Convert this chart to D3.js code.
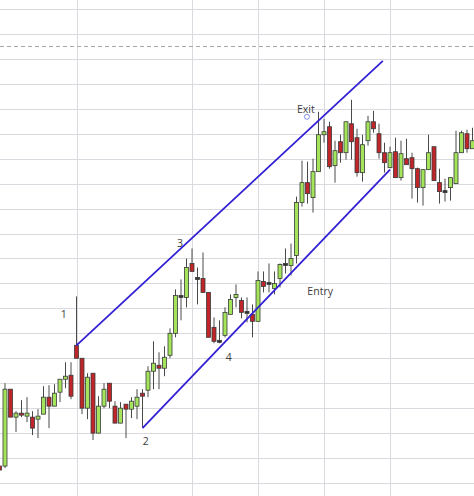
<!DOCTYPE html>
<html>
<head>
<meta charset="utf-8">
<script src="https://cdn.jsdelivr.net/npm/d3@7"></script>
<style>
  html, body { margin: 0; padding: 0; background: #fff; }
  svg { display: block; }
</style>
</head>
<body>
<div id="chart"></div>
<script>
const FRAME_WIDTH = 474;
const FRAME_HEIGHT = 496;

// candle data, one entry per bar (index = bar number)
const opens  = [42, 42, 119, 91, 95, 92, 91, 89, 94, 111, 102, 116, 129, 133, 163, 150, 100, 135, 75, 102,
                125, 102, 85, 104, 99, 102, 115, 118, 137, 143, 140, 153, 175, 212, 211, 245, 230, 230, 216, 181,
                167, 173, 194, 211, 208, 196, 194, 187, 227, 225, 220, 230, 244, 243, 253, 306, 326, 311, 337, 374,
                382, 343, 367, 356, 385, 371, 336, 368, 387, 375, 356, 341, 357, 331, 350, 351, 340, 321, 339, 362,
                326, 317, 321, 325, 356, 375, 360];
const highs  = [46, 125, 119, 97, 108, 111, 97, 99, 122, 123, 124, 129, 146, 146, 212, 150, 135, 135, 112, 125,
                125, 107, 106, 104, 111, 119, 119, 142, 167, 156, 162, 180, 219, 229, 250, 260, 241, 256, 216, 191,
                188, 201, 214, 224, 211, 211, 204, 237, 237, 245, 237, 245, 260, 265, 312, 348, 347, 350, 397, 390,
                387, 368, 374, 387, 409, 380, 374, 393, 398, 385, 366, 362, 371, 368, 370, 356, 341, 339, 374, 362,
                340, 330, 331, 378, 378, 379, 381];
const lows   = [21, 40, 91, 76, 91, 86, 73, 70, 94, 80, 102, 106, 120, 109, 150, 94, 89, 68, 75, 100,
                100, 85, 85, 70, 90, 89, 81, 111, 119, 119, 132, 150, 171, 188, 201, 237, 204, 216, 171, 165,
                165, 171, 194, 201, 190, 186, 171, 187, 216, 216, 214, 221, 235, 233, 245, 302, 305, 296, 337, 366,
                340, 326, 346, 349, 349, 332, 327, 363, 376, 350, 336, 341, 331, 328, 344, 310, 306, 303, 339, 328,
                305, 307, 308, 325, 356, 356, 360];
const closes = [38, 119, 91, 95, 93, 95, 80, 92, 111, 102, 115, 129, 132, 112, 150, 100, 131, 75, 102, 119,
                107, 85, 100, 99, 107, 111, 112, 137, 145, 140, 151, 175, 213, 212, 241, 237, 230, 216, 171, 167,
                167, 196, 209, 214, 196, 196, 187, 228, 222, 225, 225, 244, 244, 250, 306, 326, 315, 337, 374, 377,
                342, 358, 356, 387, 367, 336, 364, 387, 380, 356, 346, 356, 331, 355, 344, 340, 321, 339, 356, 328,
                317, 317, 331, 356, 376, 360, 368];

// hand-drawn channel and annotations (bar index, price)
const upperLine = [[14, 163], [69.7, 448]];
const lowerLine = [[26, 80], [71, 339]];
const labelText = ["1", "2", "3", "4", "Exit", "Entry"];
const labelBar  = [11.7, 26.6, 32.8, 41.7, 55.7, 58.3];
const labelPrice = [194, 67, 266, 151, 400, 217];
const exitMarker = [55.9, 392];

// grid
const gridBars = [14, 35, 47, 59, 71];
const gridPrices = d3.range(25, 501, 25);
const dashedPrice = 462.5;

const candles = opens.map((o, i) => ({i: i, o: o, h: highs[i], l: lows[i], c: closes[i]}));

const X_SCALE = d3.scaleLinear().domain([0, 86]).range([-0.5, 472.5]);
const Y_SCALE = d3.scaleLinear().domain([25, 500]).range([483, 9]);

const svg = d3.select("#chart")
  .append("svg")
    .attr("width", FRAME_WIDTH)
    .attr("height", FRAME_HEIGHT);

svg.append("rect")
  .attr("width", FRAME_WIDTH).attr("height", FRAME_HEIGHT)
  .attr("fill", "#fff");

// horizontal grid
svg.append("g")
  .selectAll("line")
  .data(gridPrices)
  .enter()
  .append("line")
    .attr("x1", 0).attr("x2", FRAME_WIDTH)
    .attr("y1", d => Math.round(Y_SCALE(d)) + 0.5)
    .attr("y2", d => Math.round(Y_SCALE(d)) + 0.5)
    .attr("stroke", "#d9d9df").attr("stroke-width", 1);

// vertical grid
svg.append("g")
  .selectAll("line")
  .data(gridBars)
  .enter()
  .append("line")
    .attr("x1", d => Math.round(X_SCALE(d)) + 0.5)
    .attr("x2", d => Math.round(X_SCALE(d)) + 0.5)
    .attr("y1", 0).attr("y2", FRAME_HEIGHT)
    .attr("stroke", "#d9d9df").attr("stroke-width", 1);

// dashed level
svg.append("line")
  .attr("x1", 0).attr("x2", FRAME_WIDTH)
  .attr("y1", Math.round(Y_SCALE(dashedPrice)) + 0.5)
  .attr("y2", Math.round(Y_SCALE(dashedPrice)) + 0.5)
  .attr("stroke", "#a8a8a8").attr("stroke-dasharray", "4,3");

// wicks
svg.append("g")
  .selectAll("line")
  .data(candles)
  .enter()
  .append("line")
    .attr("x1", d => X_SCALE(d.i)).attr("x2", d => X_SCALE(d.i))
    .attr("y1", d => Y_SCALE(d.h)).attr("y2", d => Y_SCALE(d.l))
    .attr("stroke", "#4a4a4a").attr("stroke-width", 1);

// bodies
svg.append("g")
  .selectAll("rect")
  .data(candles)
  .enter()
  .append("rect")
    .attr("x", d => X_SCALE(d.i) - 2)
    .attr("width", 4)
    .attr("y", d => d.o === d.c ? Y_SCALE(d.o) - 1 : Y_SCALE(Math.max(d.o, d.c)))
    .attr("height", d => d.o === d.c ? 2 : Math.abs(Y_SCALE(d.o) - Y_SCALE(d.c)))
    .attr("fill", d => d.o === d.c ? "#333" : (d.c > d.o ? "#a3e45a" : "#bf2529"))
    .attr("stroke", "#3a3a3a").attr("stroke-width", 0.8);

// channel lines
const line = d3.line().x(d => X_SCALE(d[0])).y(d => Y_SCALE(d[1]));
[upperLine, lowerLine].forEach(pts => {
  svg.append("path")
    .attr("d", line(pts))
    .attr("fill", "none")
    .attr("stroke", "#3320d4")
    .attr("stroke-width", 1.8);
});

// annotations
svg.append("g")
  .selectAll("text")
  .data(labelText)
  .enter()
  .append("text")
    .attr("x", (d, i) => X_SCALE(labelBar[i]))
    .attr("y", (d, i) => Y_SCALE(labelPrice[i]))
    .attr("text-anchor", "middle")
    .attr("dominant-baseline", "central")
    .attr("font-family", "'Open Sans', 'DejaVu Sans', sans-serif")
    .attr("font-size", "10.5px")
    .attr("fill", "#3c3c3c")
    .text(d => d);

svg.append("circle")
  .attr("cx", X_SCALE(exitMarker[0]))
  .attr("cy", Y_SCALE(exitMarker[1]))
  .attr("r", 2.5)
  .attr("fill", "none")
  .attr("stroke", "#7f8fe6").attr("stroke-width", 1);
</script>
</body>
</html>
